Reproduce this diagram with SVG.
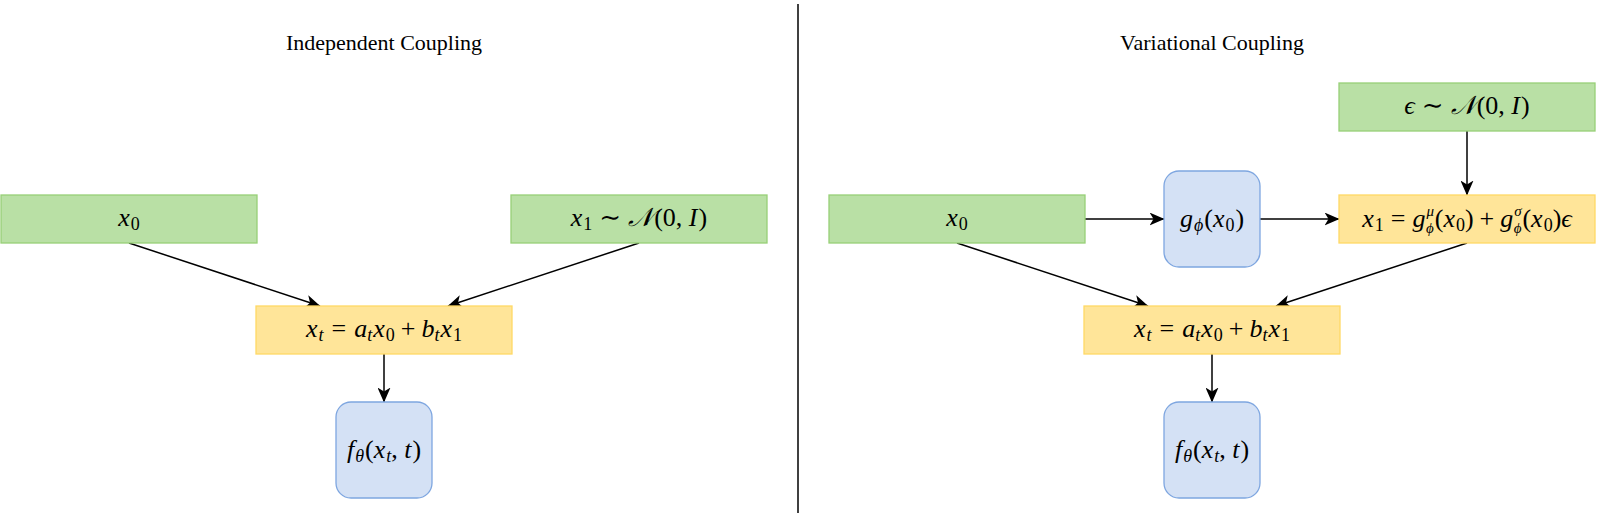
<svg xmlns="http://www.w3.org/2000/svg" width="1597" height="516" viewBox="0 0 1597 516">
<style>
.green{fill:#B9E0A5;stroke:#97D077;stroke-width:1.3}
.yellow{fill:#FFE599;stroke:#FFD966;stroke-width:1.3}
.blue{fill:#D4E1F5;stroke:#7EA6E0;stroke-width:1.3}
.m{font-family:"Liberation Serif","DejaVu Serif",serif;font-size:26px;fill:#000;text-anchor:middle}
.t{font-family:"Liberation Serif",serif;font-size:22px;fill:#000;text-anchor:middle}
.i{font-style:italic}
.s{font-size:18px}
.s2{font-size:15px}
.c{fill:none;stroke:#000;stroke-width:1.5}
</style>
<defs>
<marker id="arr" markerUnits="userSpaceOnUse" markerWidth="15" markerHeight="13" viewBox="0 0 15 13" refX="14.5" refY="6.5" orient="auto">
<path d="M0,0 L15,6.5 L0,13 L4,6.5 Z" fill="#000"/>
</marker>
</defs>
<rect width="1597" height="516" fill="#fff"/>
<g id="divider"><line x1="798" y1="4" x2="798" y2="513" stroke="#000" stroke-width="1.5"/></g>
<g id="title-left"><text class="t" x="384" y="50">Independent Coupling</text></g>
<g id="title-right"><text class="t" x="1212" y="50">Variational Coupling</text></g>

<g id="connectors">
<line class="c" x1="129" y1="243" x2="320" y2="306" marker-end="url(#arr)"/>
<line class="c" x1="639" y1="243" x2="448" y2="306" marker-end="url(#arr)"/>
<line class="c" x1="384" y1="354" x2="384" y2="402" marker-end="url(#arr)"/>
<line class="c" x1="1085" y1="219" x2="1164" y2="219" marker-end="url(#arr)"/>
<line class="c" x1="1260" y1="219" x2="1339" y2="219" marker-end="url(#arr)"/>
<line class="c" x1="1467" y1="131" x2="1467" y2="195" marker-end="url(#arr)"/>
<line class="c" x1="957" y1="243" x2="1148" y2="306" marker-end="url(#arr)"/>
<line class="c" x1="1467" y1="243" x2="1276" y2="306" marker-end="url(#arr)"/>
<line class="c" x1="1212" y1="354" x2="1212" y2="402" marker-end="url(#arr)"/>
</g>

<g id="left-x0">
<rect class="green" x="1" y="195" width="256" height="48"/>
<text class="m" x="129" y="226"><tspan class="i">x</tspan><tspan class="s" dy="4" dx="1">0</tspan></text>
</g>
<g id="left-x1">
<rect class="green" x="511" y="195" width="256" height="48"/>
<text class="m" x="639" y="226"><tspan class="i">x</tspan><tspan class="s" dy="4" dx="1">1</tspan><tspan dy="-4" dx="7">∼</tspan><tspan class="i" dx="7">𝒩</tspan><tspan dx="1">(0, </tspan><tspan class="i">I</tspan><tspan dx="1">)</tspan></text>
</g>
<g id="left-xt">
<rect class="yellow" x="256" y="306" width="256" height="48"/>
<text class="m" x="384" y="337"><tspan class="i">x</tspan><tspan class="s i" dy="4" dx="1">t</tspan><tspan dy="-4" dx="8">=</tspan><tspan class="i" dx="8">a</tspan><tspan class="s i" dy="4">t</tspan><tspan class="i" dy="-4" dx="1">x</tspan><tspan class="s" dy="4" dx="1">0</tspan><tspan dy="-4" dx="6">+</tspan><tspan class="i" dx="6">b</tspan><tspan class="s i" dy="4">t</tspan><tspan class="i" dy="-4" dx="1">x</tspan><tspan class="s" dy="4" dx="1">1</tspan></text>
</g>
<g id="left-f">
<rect class="blue" x="336" y="402" width="96" height="96" rx="15" ry="15"/>
<text class="m" x="384" y="458"><tspan class="i">f</tspan><tspan class="s i" dy="4" dx="1">θ</tspan><tspan dy="-4" dx="1">(</tspan><tspan class="i">x</tspan><tspan class="s i" dy="4" dx="1">t</tspan><tspan dy="-4">, </tspan><tspan class="i">t</tspan><tspan dx="1">)</tspan></text>
</g>

<g id="right-eps">
<rect class="green" x="1339" y="83" width="256" height="48"/>
<text class="m" x="1467" y="114"><tspan class="i">ϵ</tspan><tspan dx="7">∼</tspan><tspan class="i" dx="7">𝒩</tspan><tspan dx="1">(0, </tspan><tspan class="i">I</tspan><tspan dx="1">)</tspan></text>
</g>
<g id="right-x0">
<rect class="green" x="829" y="195" width="256" height="48"/>
<text class="m" x="957" y="226"><tspan class="i">x</tspan><tspan class="s" dy="4" dx="1">0</tspan></text>
</g>
<g id="right-g">
<rect class="blue" x="1164" y="171" width="96" height="96" rx="15" ry="15"/>
<text class="m" x="1212" y="227"><tspan class="i">g</tspan><tspan class="s i" dy="4" dx="1">ϕ</tspan><tspan dy="-4" dx="1">(</tspan><tspan class="i">x</tspan><tspan class="s" dy="4" dx="1">0</tspan><tspan dy="-4" dx="1">)</tspan></text>
</g>
<g id="right-x1">
<rect class="yellow" x="1339" y="195" width="256" height="48"/>
<text class="m" x="1467" y="227"><tspan class="i">x</tspan><tspan class="s" dy="4" dx="1">1</tspan><tspan dy="-4" dx="7">=</tspan><tspan class="i" dx="7">g</tspan><tspan class="s2 i" dy="-11" dx="1">μ</tspan><tspan class="s2 i" dx="-8" dy="17">ϕ</tspan><tspan dy="-6" dx="1">(</tspan><tspan class="i">x</tspan><tspan class="s" dy="4" dx="1">0</tspan><tspan dy="-4">)</tspan><tspan dx="6">+</tspan><tspan class="i" dx="6">g</tspan><tspan class="s2 i" dy="-11" dx="1">σ</tspan><tspan class="s2 i" dx="-8" dy="17">ϕ</tspan><tspan dy="-6" dx="1">(</tspan><tspan class="i">x</tspan><tspan class="s" dy="4" dx="1">0</tspan><tspan dy="-4">)</tspan><tspan class="i">ϵ</tspan></text>
</g>
<g id="right-xt">
<rect class="yellow" x="1084" y="306" width="256" height="48"/>
<text class="m" x="1212" y="337"><tspan class="i">x</tspan><tspan class="s i" dy="4" dx="1">t</tspan><tspan dy="-4" dx="8">=</tspan><tspan class="i" dx="8">a</tspan><tspan class="s i" dy="4">t</tspan><tspan class="i" dy="-4" dx="1">x</tspan><tspan class="s" dy="4" dx="1">0</tspan><tspan dy="-4" dx="6">+</tspan><tspan class="i" dx="6">b</tspan><tspan class="s i" dy="4">t</tspan><tspan class="i" dy="-4" dx="1">x</tspan><tspan class="s" dy="4" dx="1">1</tspan></text>
</g>
<g id="right-f">
<rect class="blue" x="1164" y="402" width="96" height="96" rx="15" ry="15"/>
<text class="m" x="1212" y="458"><tspan class="i">f</tspan><tspan class="s i" dy="4" dx="1">θ</tspan><tspan dy="-4" dx="1">(</tspan><tspan class="i">x</tspan><tspan class="s i" dy="4" dx="1">t</tspan><tspan dy="-4">, </tspan><tspan class="i">t</tspan><tspan dx="1">)</tspan></text>
</g>
</svg>
